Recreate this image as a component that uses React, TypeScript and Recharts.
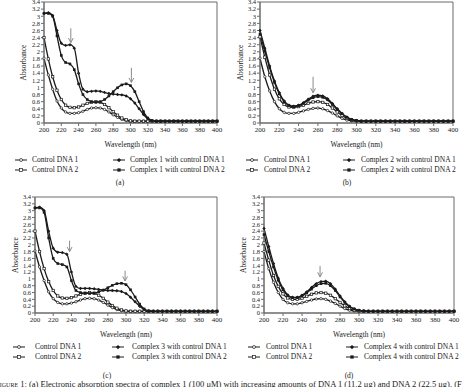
import React from 'react';
import { LineChart, Line, XAxis, YAxis, ReferenceArea, ReferenceLine, ReferenceDot } from 'recharts';

const FONT = "'Liberation Serif', 'DejaVu Serif', serif";
const INK = '#1a1a1a';
const FRAME = '#6b6b6b';
const ARROW = '#8a8a8a';

// wavelength grid (nm), sampled every 5 nm
const WAVELENGTHS = [
  200, 205, 210, 215, 220, 225, 230, 235, 240, 245, 250, 255, 260, 265, 270, 275, 280, 285, 290, 295,
  300, 305, 310, 315, 320, 325, 330, 335, 340, 345, 350, 355, 360, 365, 370, 375, 380, 385, 390, 395, 400,
];
const X_TICKS = [200, 220, 240, 260, 280, 300, 320, 340, 360, 380, 400];
const Y_TICKS = [0, 0.2, 0.4, 0.6, 0.8, 1, 1.2, 1.4, 1.6, 1.8, 2, 2.2, 2.4, 2.6, 2.8, 3, 3.2, 3.4];

// (a) complex 1
const A_CTRL1 = [
  1.82, 1.35, 0.95, 0.62, 0.42, 0.31, 0.27, 0.27, 0.29, 0.33, 0.38, 0.42, 0.43, 0.42, 0.38, 0.31, 0.23, 0.16, 0.1, 0.07,
  0.05, 0.05, 0.05, 0.05, 0.05, 0.05, 0.05, 0.05, 0.05, 0.05, 0.05, 0.05, 0.05, 0.05, 0.05, 0.05, 0.05, 0.05, 0.05, 0.05, 0.05,
];
const A_CTRL2 = [
  2.4, 1.8, 1.3, 0.92, 0.66, 0.5, 0.44, 0.43, 0.45, 0.5, 0.55, 0.58, 0.6, 0.58, 0.52, 0.43, 0.32, 0.22, 0.14, 0.09,
  0.06, 0.05, 0.05, 0.05, 0.05, 0.05, 0.05, 0.05, 0.05, 0.05, 0.05, 0.05, 0.05, 0.05, 0.05, 0.05, 0.05, 0.05, 0.05, 0.05, 0.05,
];
const A_CPX1 = [
  3.08, 3.1, 3.02, 2.6, 2.24, 2.18, 2.2, 2.1, 1.4, 0.95, 0.88, 0.89, 0.9, 0.89, 0.86, 0.83, 0.81, 0.8, 0.79, 0.76,
  0.68, 0.56, 0.4, 0.24, 0.12, 0.06, 0.05, 0.05, 0.05, 0.05, 0.05, 0.05, 0.05, 0.05, 0.05, 0.05, 0.05, 0.05, 0.05, 0.05, 0.05,
];
const A_CPX2 = [
  3.08, 3.08, 3.0, 2.45, 1.9, 1.7, 1.66, 1.5, 1.1, 0.8, 0.66, 0.6, 0.58, 0.6, 0.66, 0.76, 0.88, 0.99, 1.07, 1.1,
  1.05, 0.88, 0.6, 0.32, 0.14, 0.07, 0.05, 0.05, 0.05, 0.05, 0.05, 0.05, 0.05, 0.05, 0.05, 0.05, 0.05, 0.05, 0.05, 0.05, 0.05,
];

// (b) complex 2
const B_CTRL1 = [
  1.82, 1.3, 0.9, 0.6, 0.4, 0.3, 0.27, 0.27, 0.3, 0.34, 0.38, 0.41, 0.42, 0.4, 0.35, 0.28, 0.2, 0.13, 0.08, 0.06,
  0.05, 0.05, 0.05, 0.05, 0.05, 0.05, 0.05, 0.05, 0.05, 0.05, 0.05, 0.05, 0.05, 0.05, 0.05, 0.05, 0.05, 0.05, 0.05, 0.05, 0.05,
];
const B_CTRL2 = [
  2.42, 1.85, 1.35, 0.95, 0.68, 0.52, 0.45, 0.44, 0.46, 0.5, 0.55, 0.59, 0.6, 0.58, 0.52, 0.42, 0.31, 0.21, 0.13, 0.08,
  0.06, 0.05, 0.05, 0.05, 0.05, 0.05, 0.05, 0.05, 0.05, 0.05, 0.05, 0.05, 0.05, 0.05, 0.05, 0.05, 0.05, 0.05, 0.05, 0.05, 0.05,
];
const B_CPX1 = [
  2.6, 2.1, 1.6, 1.18, 0.85, 0.62, 0.5, 0.47, 0.5, 0.57, 0.67, 0.75, 0.78, 0.76, 0.68, 0.55, 0.4, 0.27, 0.17, 0.1,
  0.07, 0.05, 0.05, 0.05, 0.05, 0.05, 0.05, 0.05, 0.05, 0.05, 0.05, 0.05, 0.05, 0.05, 0.05, 0.05, 0.05, 0.05, 0.05, 0.05, 0.05,
];
const B_CPX2 = [
  2.5, 2.02, 1.55, 1.14, 0.82, 0.6, 0.49, 0.46, 0.49, 0.55, 0.64, 0.71, 0.74, 0.72, 0.65, 0.52, 0.38, 0.26, 0.16, 0.1,
  0.07, 0.05, 0.05, 0.05, 0.05, 0.05, 0.05, 0.05, 0.05, 0.05, 0.05, 0.05, 0.05, 0.05, 0.05, 0.05, 0.05, 0.05, 0.05, 0.05, 0.05,
];

// (c) complex 3
const C_CTRL1 = [
  1.82, 1.35, 0.95, 0.62, 0.42, 0.31, 0.27, 0.27, 0.29, 0.33, 0.38, 0.42, 0.43, 0.42, 0.38, 0.31, 0.23, 0.16, 0.1, 0.07,
  0.05, 0.05, 0.05, 0.05, 0.05, 0.05, 0.05, 0.05, 0.05, 0.05, 0.05, 0.05, 0.05, 0.05, 0.05, 0.05, 0.05, 0.05, 0.05, 0.05, 0.05,
];
const C_CTRL2 = [
  2.4, 1.8, 1.3, 0.92, 0.66, 0.5, 0.44, 0.43, 0.45, 0.5, 0.55, 0.58, 0.6, 0.58, 0.52, 0.43, 0.32, 0.22, 0.14, 0.09,
  0.06, 0.05, 0.05, 0.05, 0.05, 0.05, 0.05, 0.05, 0.05, 0.05, 0.05, 0.05, 0.05, 0.05, 0.05, 0.05, 0.05, 0.05, 0.05, 0.05, 0.05,
];
const C_CPX1 = [
  3.08, 3.1, 3.0, 2.4, 1.9, 1.78, 1.77, 1.72, 1.2, 0.78, 0.72, 0.72, 0.72, 0.71, 0.69, 0.67, 0.66, 0.66, 0.65, 0.63,
  0.57, 0.46, 0.33, 0.2, 0.1, 0.06, 0.05, 0.05, 0.05, 0.05, 0.05, 0.05, 0.05, 0.05, 0.05, 0.05, 0.05, 0.05, 0.05, 0.05, 0.05,
];
const C_CPX2 = [
  3.08, 3.08, 2.95, 2.2, 1.6, 1.45, 1.42, 1.35, 0.95, 0.66, 0.6, 0.58, 0.57, 0.58, 0.62, 0.67, 0.74, 0.81, 0.86, 0.87,
  0.83, 0.68, 0.47, 0.26, 0.12, 0.06, 0.05, 0.05, 0.05, 0.05, 0.05, 0.05, 0.05, 0.05, 0.05, 0.05, 0.05, 0.05, 0.05, 0.05, 0.05,
];

// (d) complex 4
const D_CTRL1 = [
  1.8, 1.3, 0.9, 0.6, 0.4, 0.3, 0.27, 0.27, 0.3, 0.34, 0.38, 0.41, 0.42, 0.4, 0.35, 0.28, 0.2, 0.13, 0.08, 0.06,
  0.05, 0.05, 0.05, 0.05, 0.05, 0.05, 0.05, 0.05, 0.05, 0.05, 0.05, 0.05, 0.05, 0.05, 0.05, 0.05, 0.05, 0.05, 0.05, 0.05, 0.05,
];
const D_CTRL2 = [
  2.05, 1.55, 1.1, 0.78, 0.56, 0.44, 0.4, 0.4, 0.43, 0.49, 0.55, 0.59, 0.6, 0.58, 0.52, 0.42, 0.31, 0.21, 0.13, 0.08,
  0.06, 0.05, 0.05, 0.05, 0.05, 0.05, 0.05, 0.05, 0.05, 0.05, 0.05, 0.05, 0.05, 0.05, 0.05, 0.05, 0.05, 0.05, 0.05, 0.05, 0.05,
];
const D_CPX1 = [
  2.48, 1.95, 1.45, 1.02, 0.72, 0.53, 0.46, 0.46, 0.52, 0.62, 0.75, 0.86, 0.92, 0.93, 0.86, 0.7, 0.5, 0.33, 0.2, 0.12,
  0.08, 0.06, 0.05, 0.05, 0.05, 0.05, 0.05, 0.05, 0.05, 0.05, 0.05, 0.05, 0.05, 0.05, 0.05, 0.05, 0.05, 0.05, 0.05, 0.05, 0.05,
];
const D_CPX2 = [
  2.3, 1.8, 1.35, 0.96, 0.68, 0.51, 0.45, 0.45, 0.5, 0.59, 0.7, 0.8, 0.86, 0.87, 0.8, 0.66, 0.47, 0.31, 0.19, 0.12,
  0.08, 0.06, 0.05, 0.05, 0.05, 0.05, 0.05, 0.05, 0.05, 0.05, 0.05, 0.05, 0.05, 0.05, 0.05, 0.05, 0.05, 0.05, 0.05, 0.05, 0.05,
];

// arrows: wavelength, from absorbance, to absorbance
const A_ARROWS = [
  { x: 231, from: 2.66, to: 2.26 },
  { x: 301, from: 1.55, to: 1.14 },
];
const B_ARROWS = [{ x: 255, from: 1.3, to: 0.85 }];
const C_ARROWS = [
  { x: 238, from: 2.12, to: 1.8 },
  { x: 299, from: 1.24, to: 0.94 },
];
const D_ARROWS = [{ x: 259, from: 1.38, to: 1.06 }];

type Marker = 'circle' | 'square' | 'diamond' | 'block';

function markerShape(kind: Marker, cx: number, cy: number, key?: string, s = 1) {
  if (kind === 'circle')
    return <circle key={key} cx={cx} cy={cy} r={1.2 * s} fill="#fff" stroke={INK} strokeWidth={0.7} />;
  if (kind === 'square')
    return <rect key={key} x={cx - 1.2 * s} y={cy - 1.2 * s} width={2.4 * s} height={2.4 * s} fill="#fff" stroke={INK} strokeWidth={0.7} />;
  if (kind === 'diamond')
    return <path key={key} d={`M${cx},${cy - 1.7 * s}L${cx + 1.7 * s},${cy}L${cx},${cy + 1.7 * s}L${cx - 1.7 * s},${cy}Z`} fill={INK} />;
  return <rect key={key} x={cx - 1.3 * s} y={cy - 1.3 * s} width={2.6 * s} height={2.6 * s} fill={INK} />;
}

const fmtY = (v: number) => String(Number(v.toFixed(1)));

interface PanelProps {
  left: number;
  top: number;
  width: number;
  plotTop: number;
  plotBottom: number;
  marginRight: number;
  yWidth: number;
  yTitleOffset: number;
  ctrl1: number[];
  ctrl2: number[];
  cpx1: number[];
  cpx2: number[];
  arrows: { x: number; from: number; to: number }[];
}

const X_AXIS_H = 27;

function Panel(p: PanelProps) {
  const rows = WAVELENGTHS.map((w, i) => ({
    w,
    ctrl1: p.ctrl1[i],
    ctrl2: p.ctrl2[i],
    cpx1: p.cpx1[i],
    cpx2: p.cpx2[i],
  }));
  const series: { key: string; marker: Marker }[] = [
    { key: 'ctrl1', marker: 'circle' },
    { key: 'ctrl2', marker: 'square' },
    { key: 'cpx1', marker: 'diamond' },
    { key: 'cpx2', marker: 'block' },
  ];

  return (
    <div style={{ position: 'absolute', left: p.left, top: p.top }}>
      <LineChart
        width={p.width}
        height={p.plotBottom - p.top + X_AXIS_H}
        data={rows}
        margin={{ top: p.plotTop - p.top, right: p.marginRight, left: 0, bottom: 0 }}
      >
        <XAxis
          dataKey="w"
          type="number"
          domain={[200, 400]}
          ticks={X_TICKS}
          interval={0}
          height={X_AXIS_H}
          tickSize={3}
          tickMargin={1}
          stroke={FRAME}
          tick={{ fontSize: 7, fill: INK, fontFamily: FONT }}
          label={{ value: 'Wavelength (nm)', position: 'insideBottom', offset: 3, fontSize: 7.5, fill: INK, fontFamily: FONT }}
        />
        <YAxis
          type="number"
          domain={[0, 3.4]}
          ticks={Y_TICKS}
          interval={0}
          width={p.yWidth}
          tickSize={3}
          tickMargin={1}
          stroke={FRAME}
          tickFormatter={fmtY}
          tick={{ fontSize: 6.5, fill: INK, fontFamily: FONT }}
          label={{
            value: 'Absorbance',
            angle: -90,
            position: 'insideLeft',
            offset: p.yTitleOffset,
            fontSize: 7.5,
            fill: INK,
            fontFamily: FONT,
            style: { textAnchor: 'middle' },
          }}
        />
        <ReferenceArea x1={200} x2={400} y1={0} y2={3.4} fill="none" fillOpacity={0} stroke={FRAME} strokeWidth={1} />
        {series.map((s) => (
          <Line
            key={s.key}
            dataKey={s.key}
            type="monotone"
            stroke={INK}
            strokeWidth={1.3}
            isAnimationActive={false}
            dot={(d: any) =>
              d.cx == null ? <g key={`${s.key}-${d.index}`} /> : markerShape(s.marker, d.cx, d.cy, `${s.key}-${d.index}`)
            }
            activeDot={false}
          />
        ))}
        {p.arrows.map((a, i) => (
          <ReferenceLine
            key={`al-${i}`}
            segment={[
              { x: a.x, y: a.from },
              { x: a.x, y: a.to },
            ]}
            stroke={ARROW}
            strokeWidth={1}
          />
        ))}
        {p.arrows.map((a, i) => (
          <ReferenceDot
            key={`ah-${i}`}
            x={a.x}
            y={a.to}
            r={0}
            shape={(d: any) => (
              <path
                d={`M${d.cx - 2.4},${d.cy - 4.5}L${d.cx},${d.cy}L${d.cx + 2.4},${d.cy - 4.5}`}
                fill="none"
                stroke={ARROW}
                strokeWidth={1}
              />
            )}
          />
        ))}
      </LineChart>
    </div>
  );
}

function LegendItem({ x, y, textX, marker, text }: { x: number; y: number; textX: number; marker: Marker; text: string }) {
  return (
    <>
      <svg style={{ position: 'absolute', left: x, top: y - 4 }} width={12} height={8}>
        <line x1={0} y1={4} x2={12} y2={4} stroke={INK} strokeWidth={1} />
        {markerShape(marker, 6, 4, undefined, 1.25)}
      </svg>
      <span
        style={{
          position: 'absolute',
          left: textX,
          top: y - 5,
          lineHeight: '10px',
          fontSize: 7.5,
          fontFamily: FONT,
          color: INK,
          whiteSpace: 'nowrap',
        }}
      >
        {text}
      </span>
    </>
  );
}

function Legend({ row1, row2, l, lt, r, rt, n }: { row1: number; row2: number; l: number; lt: number; r: number; rt: number; n: number }) {
  return (
    <>
      <LegendItem x={l} y={row1} textX={lt} marker="circle" text="Control DNA 1" />
      <LegendItem x={l} y={row2} textX={lt} marker="square" text="Control DNA 2" />
      <LegendItem x={r} y={row1} textX={rt} marker="diamond" text={`Complex ${n} with control DNA 1`} />
      <LegendItem x={r} y={row2} textX={rt} marker="block" text={`Complex ${n} with control DNA 2`} />
    </>
  );
}

function Tag({ x, y, text }: { x: number; y: number; text: string }) {
  return (
    <span
      style={{
        position: 'absolute',
        left: x - 10,
        width: 20,
        top: y - 5,
        lineHeight: '10px',
        textAlign: 'center',
        fontSize: 7.5,
        fontFamily: FONT,
        color: INK,
      }}
    >
      {text}
    </span>
  );
}

export default function App() {
  return (
    <div
      style={{
        position: 'absolute',
        left: 0,
        top: 0,
        width: 474,
        height: 387,
        overflow: 'hidden',
        background: '#fff',
      }}
    >
      <Panel left={0} top={0} width={225} plotTop={2} plotBottom={123} marginRight={8} yWidth={44} yTitleOffset={23}
        ctrl1={A_CTRL1} ctrl2={A_CTRL2} cpx1={A_CPX1} cpx2={A_CPX2} arrows={A_ARROWS} />
      <Panel left={237} top={0} width={225} plotTop={2} plotBottom={123} marginRight={9} yWidth={23} yTitleOffset={3}
        ctrl1={B_CTRL1} ctrl2={B_CTRL2} cpx1={B_CPX1} cpx2={B_CPX2} arrows={B_ARROWS} />
      <Panel left={0} top={190} width={225} plotTop={197} plotBottom={313} marginRight={8} yWidth={35} yTitleOffset={15}
        ctrl1={C_CTRL1} ctrl2={C_CTRL2} cpx1={C_CPX1} cpx2={C_CPX2} arrows={C_ARROWS} />
      <Panel left={237} top={190} width={225} plotTop={197} plotBottom={313} marginRight={8} yWidth={27} yTitleOffset={6}
        ctrl1={D_CTRL1} ctrl2={D_CTRL2} cpx1={D_CPX1} cpx2={D_CPX2} arrows={D_ARROWS} />

      <Legend row1={159.5} row2={169.5} l={15} lt={32} r={113} rt={130} n={1} />
      <Legend row1={159.5} row2={169.5} l={246} lt={264} r={343} rt={361} n={2} />
      <Legend row1={346.5} row2={356.5} l={13} lt={35} r={112} rt={132} n={3} />
      <Legend row1={346.5} row2={356.5} l={248} lt={266} r={346} rt={364} n={4} />

      <Tag x={120} y={183} text="(a)" />
      <Tag x={347} y={183} text="(b)" />
      <Tag x={107} y={376} text="(c)" />
      <Tag x={349} y={376} text="(d)" />

      <div
        style={{
          position: 'absolute',
          left: -5,
          top: 379,
          fontSize: 8.5,
          lineHeight: '10px',
          fontFamily: FONT,
          color: INK,
          whiteSpace: 'nowrap',
        }}
      >
        <span style={{ fontVariant: 'small-caps' }}>Figure</span> 1: (a) Electronic absorption spectra of complex 1 (100 μM)
        with increasing amounts of DNA 1 (11.2 μg) and DNA 2 (22.5 μg). (F
      </div>
    </div>
  );
}
